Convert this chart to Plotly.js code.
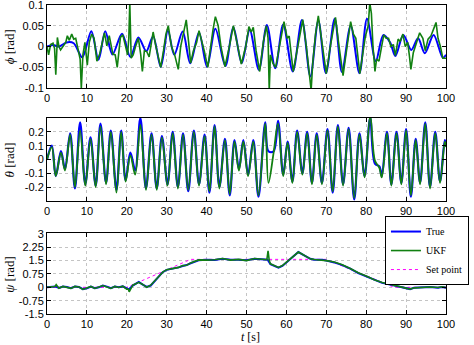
<!DOCTYPE html>
<html><head><meta charset="utf-8">
<script src="https://cdn.plot.ly/plotly-3.0.1.min.js"></script>
<style>html,body{margin:0;padding:0;background:#fff}#plot{width:474px;height:345px}</style>
</head><body><div id="plot"></div>
<script>
// ---- data ----
var xTicks = [0,10,20,30,40,50,60,70,80,90,100];
var phiTicks = [-0.1,-0.05,0,0.05,0.1];
var phiTickText = ['-0.1','-0.05','0','0.05','0.1'];
var thetaTicks = [-0.2,-0.1,0,0.1,0.2];
var thetaTickText = ['-0.2','-0.1','0','0.1','0.2'];
var psiTicks = [-1.5,-0.75,0,0.75,1.5,2.25,3];
var psiTickText = ['-1.5','-0.75','0','0.75','1.5','2.25','3'];

var phiT = [0,1.5,3,4.9,6.7,8.85,11.1,12.9,14.6,16.4,
  18.8,20.9,22.9,24.9,26.6,28.5,30.3,31.9,34.0,35.9,
  38.1,40.1,42.2,44.7,46.7,48.8,50.8,53.1,55.1,57.2,
  59.2,61.6,63.9,66.0,68.0,69.9,72.1,73.9,76.1,78.3,
  80.2,82.4,84.3,86.0,87.3,89.3,91.3,93.0,94.7,96.9,
  99.2,100];
var phiTrue = [0,0.004,0.0,0.01,0.008,-0.026,0.037,-0.032,0.037,-0.019,
  0.031,-0.025,0.022,-0.011,0.025,-0.049,0.038,-0.02,0.036,-0.04,
  0.034,-0.049,0.043,-0.047,0.047,-0.04,0.04,-0.056,0.052,-0.052,
  0.053,-0.06,0.064,-0.072,0.063,-0.064,0.067,-0.061,0.05,-0.064,
  0.067,-0.035,0.028,0.01,-0.023,0.028,-0.008,0.02,-0.016,0.028,
  -0.027,-0.02];

var phiUT = [0,0.4,0.9,1.5,1.9,2.2,2.6,3.0,3.4,4.1,
  4.7,5.1,5.6,6.2,6.7,7.2,7.8,8.3,8.6,9.0,
  9.5,10.1,10.6,11.2,11.8,12.5,13.2,13.8,14.4,15.0,
  15.6,16.5,17.1,17.6,18.4,19.0,19.6,20.2,20.5,20.75,
  21.1,21.6,22.2,22.9,23.5,23.9,24.4,25.0,25.6,26.6,
  27.3,27.9,28.5,29.2,29.8,30.4,31.2,32.0,32.9,33.5,
  34.2,34.9,35.5,36.0,36.7,37.5,38.1,38.9,39.4,40.3,
  41.0,41.6,42.2,42.9,43.6,44.6,45.7,46.7,47.6,48.7,
  49.8,50.6,51.2,51.7,52.4,53.3,54.2,55.0,55.4,55.7,
  56.0,56.6,57.3,58.3,59.4,60.2,60.7,61.7,62.8,64.1,
  65.0,65.8,66.2,66.6,67.3,68.0,69.0,70.0,71.0,72.3,
  73.2,74.2,75.2,76.1,76.8,77.4,78.4,79.3,79.8,80.5,
  80.9,81.3,81.7,82.2,82.6,83.2,83.8,84.4,85.0,85.6,
  86.2,86.8,87.3,88.0,88.5,89.2,89.8,90.4,90.8,91.2,
  91.8,92.6,93.4,94.2,94.8,95.5,96.2,97.0,97.5,98.0,
  98.6,99.2,100];
var phiUKF = [0,-0.02,0.005,0.008,-0.005,-0.068,0.022,0,-0.008,0.002,
  0.01,0.026,0.015,0.03,0.018,0.02,-0.012,-0.03,-0.1,-0.02,
  0.01,-0.045,0.01,0.03,0.02,-0.035,-0.018,0.01,0.033,0.002,
  0.026,-0.018,-0.02,-0.05,0.022,0.028,0,-0.02,0.02,0.105,
  -0.028,-0.02,0,0.02,-0.02,-0.06,-0.01,-0.012,-0.025,0.035,
  0,-0.025,-0.05,-0.01,0.03,0.05,0,-0.02,-0.055,0,
  0.035,0.064,0.01,-0.04,-0.01,0.01,0.038,0.01,-0.01,-0.05,
  0,0.04,0.072,0.05,0,-0.048,0,0.05,0.01,-0.042,
  0,0.048,0.035,0.046,-0.01,-0.06,0.01,0.05,0.02,-0.105,
  -0.02,-0.04,-0.05,0,0.06,0.02,0.025,-0.06,0,0.065,
  0,-0.06,-0.105,-0.04,0.03,0.074,0,-0.065,0,0.07,
  0,-0.07,0,0.06,0.03,0.02,-0.065,0,0.025,0.05,
  0.105,0.08,0,-0.06,-0.03,-0.035,0,0.028,0.02,0.02,
  0,0.005,-0.022,0.018,0.012,0.03,0,0.01,-0.02,-0.055,
  -0.015,0.01,0.033,0.02,-0.01,0.018,0.025,0.045,0.058,0.02,
  0,-0.028,-0.028];

var thetaT = [0,1.2,2.2,3.5,4.5,5.8,7.0,8.3,9.6,10.9,
  12.2,13.4,14.8,16.0,17.4,18.6,19.7,20.9,22.1,23.4,
  24.8,26.2,27.5,28.8,30.2,31.5,32.8,34.1,35.4,36.8,
  38.1,39.5,40.7,42.0,43.2,44.6,45.8,47.0,48.1,49.2,
  50.4,51.7,53.0,54.7,55.5,56.8,57.9,59.2,60.3,61.5,
  62.7,64.0,65.2,66.4,67.6,68.9,70.3,71.6,72.9,74.2,
  75.6,77.0,78.3,79.6,81.0,82.2,83.3,83.9,85.2,86.3,
  87.6,88.8,90.0,91.2,92.4,93.5,94.8,96.0,97.3,98.5,
  99.7,100];
var thetaTrue = [0,0.10,-0.12,0.06,-0.07,0.19,-0.21,0.27,-0.18,0.16,
  -0.19,0.26,-0.17,0.21,-0.22,0.21,-0.15,0.05,-0.08,0.30,
  -0.21,0.19,-0.21,0.17,-0.18,0.20,-0.20,0.19,-0.23,0.21,
  -0.18,0.18,-0.24,0.25,-0.20,0.15,-0.26,0.14,-0.07,0.14,
  -0.11,0.14,-0.27,0.27,0.06,0.06,0.28,-0.11,0.13,-0.16,
  0.21,-0.10,0.20,-0.17,0.19,-0.17,0.22,-0.24,0.25,-0.18,
  0.23,-0.29,0.19,-0.12,0.30,-0.03,-0.05,-0.12,0.20,-0.18,
  0.20,-0.17,0.22,-0.27,0.15,-0.17,0.27,-0.20,0.20,-0.16,
  0.14,0.10];
var thetaUKF = [0,0.09,-0.12,0.05,-0.08,0.18,-0.20,0.21,-0.19,0.15,
  -0.20,0.24,-0.18,0.20,-0.24,0.20,-0.16,0.03,-0.11,0.25,
  -0.22,0.18,-0.22,0.16,-0.19,0.19,-0.21,0.18,-0.22,0.20,
  -0.19,0.17,-0.23,0.24,-0.21,0.14,-0.25,0.13,-0.08,0.13,
  -0.12,0.13,-0.26,0.26,-0.17,0.05,0.26,-0.12,0.12,-0.17,
  0.20,-0.11,0.19,-0.18,0.18,-0.18,0.21,-0.23,0.24,-0.19,
  0.22,-0.28,0.18,-0.13,0.32,-0.01,-0.06,-0.13,0.19,-0.19,
  0.19,-0.18,0.21,-0.26,0.14,-0.18,0.26,-0.21,0.19,-0.17,
  0.13,0.09];

var psiT = [0,1,2,3,4,5,6,7,8,9,
  10,11,12,13,14,15,16,17,18,19,
  20,20.5,21.5,23,24,25,26,27,28,29,
  30,31,32,33,34,35,36,37,38,40,
  42,44,46,48,50,52,54,55.3,56,57,
  58,59,60,61,62,63,64,65,66,67,
  68,69,70,72,74,76,78,80,82,84,
  86,88,90,91,92,94,96,98,99,100];
var psiTrue = [0,0.03,0.05,-0.04,0.04,0.02,-0.05,0.04,0.02,-0.1,
  -0.06,0.04,-0.05,0.0,0.1,0.04,-0.05,0.04,0.0,0.05,
  -0.08,-0.12,0.1,0.3,0.15,0.02,0.1,0.35,0.6,0.85,
  0.98,1.02,1.05,1.12,1.2,1.25,1.35,1.45,1.52,1.55,
  1.53,1.6,1.55,1.55,1.52,1.6,1.58,1.55,1.3,1.2,
  1.1,1.2,1.4,1.6,1.8,1.98,1.85,1.7,1.6,1.55,
  1.55,1.55,1.5,1.4,1.25,1.05,0.8,0.62,0.42,0.25,
  0.15,0.05,-0.07,-0.1,-0.03,0.0,0.02,-0.02,0.02,-0.02];
var psiUT = [0,1,2,2.3,3,4,5,6,7,8,
  9,10,11,12,13,14,15,16,17,18,
  19,20,20.4,20.6,21.5,23,24,25,26,27,
  28,29,30,31,32,33,34,35,36,37,
  38,40,42,44,46,48,50,52,54,55.1,
  55.4,55.7,56,57,58,59,60,61,62,63,
  64,65,66,67,68,69,70,72,74,76,
  78,80,82,84,86,88,90,91,92,94,
  96,98,99,100];
var psiUKF = [0,0.04,0.05,0.15,-0.05,0.05,0.0,-0.06,0.05,0.02,
  -0.12,-0.05,0.05,-0.06,0.01,0.1,0.02,-0.06,0.05,-0.01,
  0.06,-0.1,-0.1,-0.25,0.12,0.28,0.16,0.0,0.12,0.36,
  0.62,0.85,0.99,1.03,1.07,1.12,1.22,1.24,1.37,1.46,
  1.54,1.53,1.55,1.62,1.53,1.57,1.5,1.62,1.57,1.55,
  2.05,1.5,1.32,1.22,1.12,1.22,1.42,1.62,1.82,1.98,
  1.86,1.72,1.6,1.56,1.54,1.56,1.5,1.42,1.27,1.06,
  0.82,0.64,0.43,0.27,0.16,0.06,-0.05,-0.1,-0.03,0.01,
  0.02,-0.01,0.03,-0.02];
var spT = [0,20,36,70,87,100];
var spV = [0,0,1.57,1.57,0,0];

// ---- styling ----
var BLUE = '#0000ff', GREEN = '#118011', MAG = '#ff00ff';
var tickFont = {family:'Liberation Sans, Arial, sans-serif', size:11, color:'#000'};
var serif = 'Liberation Serif, Times New Roman, serif';

var traces = [
  {x:phiT, y:phiTrue, xaxis:'x', yaxis:'y', mode:'lines', line:{color:BLUE,width:2,shape:'spline',smoothing:0.9}, showlegend:false},
  {x:phiUT, y:phiUKF, xaxis:'x', yaxis:'y', mode:'lines', line:{color:GREEN,width:1.6}, showlegend:false},
  {x:thetaT, y:thetaTrue, xaxis:'x2', yaxis:'y2', mode:'lines', line:{color:BLUE,width:2.2,shape:'spline',smoothing:1}, showlegend:false},
  {x:thetaT, y:thetaUKF, xaxis:'x2', yaxis:'y2', mode:'lines', line:{color:GREEN,width:1.8,shape:'spline',smoothing:1}, showlegend:false},
  {x:spT, y:spV, xaxis:'x3', yaxis:'y3', mode:'lines', name:'Set point', legendrank:3, line:{color:MAG,width:1,dash:'dot'}},
  {x:psiT, y:psiTrue, xaxis:'x3', yaxis:'y3', mode:'lines', name:'True', legendrank:1, line:{color:BLUE,width:2}},
  {x:psiUT, y:psiUKF, xaxis:'x3', yaxis:'y3', mode:'lines', name:'UKF', legendrank:2, line:{color:GREEN,width:1.6}}
];

function xax(anchor){
  return {domain:[0,1], anchor:anchor, range:[0,100], tickvals:xTicks, ticktext:xTicks.map(String),
    ticks:'inside', ticklen:4, tickcolor:'#000', showline:true, linecolor:'#000', linewidth:1, mirror:'ticks',
    showgrid:true, gridcolor:'#c4c4c4', griddash:'dot', gridwidth:1, zeroline:false, tickfont:tickFont,
    ticklabeloverflow:'allow', fixedrange:true};
}
function yax(anchor, dom, rng, tv, tt){
  return {domain:dom, anchor:anchor, range:rng, tickvals:tv, ticktext:tt,
    ticks:'inside', ticklen:4, tickcolor:'#000', showline:true, linecolor:'#000', linewidth:1, mirror:'ticks',
    showgrid:true, gridcolor:'#c4c4c4', griddash:'dot', gridwidth:1, zeroline:false, tickfont:tickFont,
    ticklabeloverflow:'allow', fixedrange:true};
}

var layout = {
  width:474, height:345,
  margin:{l:47, r:21, t:5, b:31},
  paper_bgcolor:'#fff', plot_bgcolor:'#fff',
  showlegend:true,
  xaxis: xax('y'),
  xaxis2: xax('y2'),
  xaxis3: xax('y3'),
  yaxis: yax('x', [0.731,1], [-0.1,0.1], phiTicks, phiTickText),
  yaxis2: yax('x2', [0.366,0.634], [-0.3,0.3], thetaTicks, thetaTickText),
  yaxis3: yax('x3', [0,0.262], [-1.5,3.05], psiTicks, psiTickText),
  legend:{x:0.847, y:0.317, xanchor:'left', yanchor:'top', bgcolor:'#fff', bordercolor:'#000', borderwidth:1,
    font:{family:serif, size:10, color:'#000'}, tracegroupgap:0, itemwidth:30},
  annotations:[
    {text:'<i>ϕ</i> [rad]', xref:'paper', yref:'paper', x:-0.093, y:0.866, textangle:-90, showarrow:false, xanchor:'center', yanchor:'middle', font:{family:serif, size:13, color:'#000'}},
    {text:'<i>θ</i> [rad]', xref:'paper', yref:'paper', x:-0.093, y:0.5, textangle:-90, showarrow:false, xanchor:'center', yanchor:'middle', font:{family:serif, size:13, color:'#000'}},
    {text:'<i>ψ</i> [rad]', xref:'paper', yref:'paper', x:-0.093, y:0.13, textangle:-90, showarrow:false, xanchor:'center', yanchor:'middle', font:{family:serif, size:13, color:'#000'}},
    {text:'<i>t</i> [s]', xref:'paper', yref:'paper', x:0.51, y:-0.073, showarrow:false, xanchor:'center', yanchor:'middle', font:{family:serif, size:12, color:'#000'}}
  ]
};

Plotly.newPlot('plot', traces, layout, {staticPlot:true, displayModeBar:false});
</script>
</body></html>
